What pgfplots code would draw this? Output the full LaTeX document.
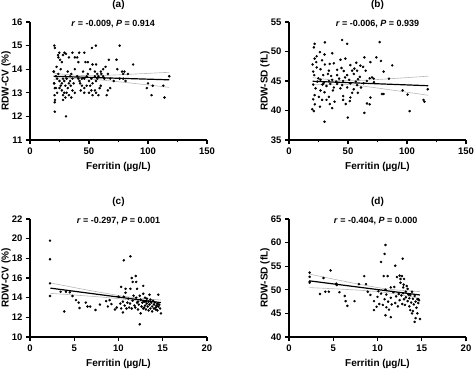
\documentclass[border=0pt]{standalone}
\usepackage{pgfplots}
\pgfplotsset{compat=1.18}
\usepackage{fontspec}
\setmainfont{Liberation Sans}
\pgfplotsset{
  panel/.style={
    scale only axis, width=177pt, height=118pt,
    axis lines=left, axis line style={line width=1.3pt,-},
    every tick/.style={line width=1.1pt, black},
    tick align=outside, major tick length=4pt, minor tick length=2.5pt,
    tick label style={font=\fontsize{9.5}{11}\selectfont\bfseries},
    /pgf/number format/assume math mode=true,
    xlabel={Ferritin (µg/L)},
    xlabel style={font=\fontsize{10}{12}\selectfont\bfseries, at={(axis description cs:0.5,-0.229)}, anchor=center},
    ylabel style={font=\fontsize{10}{12}\selectfont\bfseries, at={(axis description cs:-0.136,0.5)}, anchor=center},
    clip=false,
  },
  pts/.style={only marks, mark=*, mark size=1.05pt, black},
  reg/.style={black, line width=1.2pt},
  ci/.style={black!28, line width=0.6pt, smooth},
}
\newcommand{\ptitle}[1]{\node[font=\fontsize{10}{12}\selectfont\bfseries] at (rel axis cs:0.5,1.144) {#1};}
\newcommand{\pstat}[3]{\node[font=\fontsize{9}{11}\selectfont\bfseries] at (rel axis cs:#1,0.983) {\textit{r} = #2, \textit{P} = #3};}
\begin{document}
\begin{tikzpicture}
\useasboundingbox (0,0) rectangle (474pt,370pt);
% (a)
\begin{axis}[panel, at={(30pt,230pt)}, anchor=south west,
  xmin=0, xmax=150, ymin=11, ymax=16, xtick={0,50,100,150}, minor xtick={25,75,125},
  ytick={11,12,13,14,15,16}, ylabel={RDW-CV (\%)}]
\addplot[pts] coordinates {
(20.6,15.0)(21.1,14.9)(20.3,13.9)(20.5,13.4)(21.0,13.2)(20.8,12.9)(21.2,12.7)(21.0,12.6)(21.0,12.2)(30.5,12.0)
(24.8,14.7)(29.2,14.7)(30.5,14.65)(36.0,14.7)(41.7,14.7)(46.0,14.7)
(23.8,14.6)(28.0,14.6)(52.5,14.9)(55.8,15.0)(76.0,15.0)
(24.0,14.5)(33.0,14.5)(38.0,14.5)(40.0,14.5)
(25.5,14.4)(66.8,14.4)(73.3,14.4)
(27.0,14.3)(41.0,14.3)(47.0,14.3)(49.0,14.3)
(53.0,14.2)(56.0,14.2)(87.4,14.2)
(64.0,14.1)(22.5,14.1)
(38.0,14.0)(51.0,14.0)(62.0,14.0)(74.0,14.0)(26.0,14.0)
(20.0,13.9)(32.0,13.9)(45.0,13.9)(55.0,13.9)(60.0,13.9)(78.0,13.9)(80.0,13.9)
(24.0,13.8)(35.0,13.8)(49.0,13.8)(57.0,13.8)(60.5,13.8)(66.0,13.8)(79.0,13.8)(83.0,13.8)
(22.0,13.7)(30.0,13.7)(34.0,13.7)(40.0,13.7)(48.0,13.7)(55.0,13.7)(58.0,13.7)(62.0,13.7)(118.0,13.7)
(23.0,13.6)(28.0,13.6)(31.0,13.6)(36.0,13.6)(41.0,13.6)(44.0,13.6)(46.0,13.6)(52.0,13.6)(57.0,13.6)(63.0,13.6)(68.0,13.6)(76.0,13.6)(79.0,13.6)
(25.0,13.5)(29.0,13.5)(34.0,13.5)(42.0,13.5)(50.0,13.5)(56.0,13.5)(71.0,13.5)(81.0,13.5)
(20.5,13.4)(27.0,13.4)(33.0,13.4)(37.0,13.4)(42.5,13.4)(53.0,13.4)(100.0,13.4)
(26.0,13.3)(30.0,13.3)(34.5,13.3)(44.0,13.3)(48.0,13.3)(51.0,13.3)(60.0,13.3)(104.0,13.3)(113.0,13.3)
(22.0,13.2)(25.0,13.2)(32.0,13.2)(46.0,13.2)(59.0,13.2)(68.0,13.2)(99.0,13.2)
(27.0,13.1)(36.0,13.1)(43.0,13.1)(52.0,13.1)(55.0,13.1)(66.0,13.1)
(23.0,13.0)(29.0,13.0)(31.0,13.0)(38.0,13.0)(46.0,13.0)(50.0,13.0)(56.0,13.0)
(28.0,12.9)(33.0,12.9)(53.0,12.9)(58.0,12.9)(65.0,12.9)(103.0,12.9)
(30.0,12.8)(35.0,12.8)(114.0,12.8)(28.0,12.7)
};
\addplot[ci] coordinates {(20,13.828)(30,13.780)(40,13.742)(50,13.727)(60,13.734)(70,13.751)(80,13.773)(90,13.798)(100,13.823)(110,13.849)(118,13.870)};
\addplot[ci] coordinates {(20,13.572)(30,13.590)(40,13.596)(50,13.581)(60,13.544)(70,13.495)(80,13.443)(90,13.388)(100,13.333)(110,13.275)(118,13.230)};
\addplot[reg] coordinates {(20,13.70)(118,13.55)};
\ptitle{(a)}
\pstat{0.47}{-0.009}{0.914}
\end{axis}
% (b)
\begin{axis}[panel, at={(289pt,230pt)}, anchor=south west,
  xmin=0, xmax=150, ymin=35, ymax=55, xtick={0,50,100,150}, minor xtick={25,75,125},
  ytick={35,40,45,50,55}, ylabel={RDW-SD (fL)}]
\addplot[pts] coordinates {
(21.7,51.3)(21.1,50.7)(30.4,51.55)(45.0,51.95)(49.3,51.3)(76.8,51.6)(26.2,49.9)(23.4,49.2)(21.7,48.8)(30.1,49.5)(36.6,49.7)(20.0,47.8)(23.1,48.2)(30.4,47.8)(38.0,48.0)(43.6,48.6)(47.8,48.8)(63.9,49.0)(69.0,48.2)(74.0,49.0)(77.9,48.4)(87.5,47.65)(52.0,47.7)(55.4,47.1)(80.2,46.6)(20.5,46.6)(26.7,47.0)(33.8,46.75)(40.8,46.9)(46.4,46.7)(53.5,46.75)(57.7,46.75)(62.8,47.4)(65.0,46.75)(70.4,45.6)(68.4,45.45)(71.8,45.4)(84.7,45.4)(21.4,46.0)(29.0,46.0)(35.7,45.85)(40.8,46.0)(49.3,46.0)(54.9,46.2)(60.0,45.7)(24.8,45.45)(33.8,45.0)(40.0,44.9)(45.9,45.0)(51.0,45.2)(56.6,44.9)(20.5,44.4)(28.4,44.4)(31.8,44.15)(38.0,43.9)(43.6,43.75)(49.3,43.9)(54.9,43.6)(61.0,43.9)(22.5,43.75)(26.7,43.4)(30.1,43.1)(37.2,43.4)(53.5,43.0)(58.3,43.0)(78.8,42.8)(80.2,42.8)(96.3,43.4)(100.5,42.7)(117.6,43.6)(21.7,42.6)(25.3,42.3)(33.8,42.3)(45.9,42.45)(52.0,42.2)(69.0,42.2)(20.5,41.9)(28.1,41.8)(31.8,41.8)(38.6,41.5)(45.9,41.8)(51.5,41.6)(114.0,41.8)(114.8,41.5)(21.9,41.05)(34.6,41.1)(48.1,41.1)(66.1,41.2)(68.4,41.05)(19.7,40.2)(21.1,39.9)(26.2,40.65)(36.6,40.4)(102.2,39.9)(63.9,39.6)(49.8,38.8)(30.1,38.1)(33.0,46.2)(36.6,45.2)(26.7,45.2)(40.8,44.5)(45.0,44.3)(52.0,44.6)(57.7,44.3)(63.3,44.6)(24.0,44.9)(29.5,44.7)(35.0,44.5)(42.5,45.4)(47.5,45.6)(58.5,45.3)(66.0,45.0)(72.0,44.8)(23.5,47.3)(28.0,48.5)(34.5,47.9)(57.0,48.1)(60.5,47.6)(44.5,47.2)
};
\addplot[ci] coordinates {(20,45.572)(30,45.317)(40,45.116)(50,45.039)(60,45.088)(70,45.189)(80,45.311)(90,45.440)(100,45.574)(110,45.709)(118,45.82)};
\addplot[ci] coordinates {(20,44.328)(30,44.429)(40,44.478)(50,44.401)(60,44.200)(70,43.945)(80,43.671)(90,43.388)(100,43.102)(110,42.813)(118,42.58)};
\addplot[reg] coordinates {(20,44.95)(118,44.20)};
\ptitle{(b)}
\pstat{0.5}{-0.006}{0.939}
\end{axis}
% (c)
\begin{axis}[panel, at={(30pt,33pt)}, anchor=south west,
  xmin=0, xmax=20, ymin=10, ymax=22, xtick={0,5,10,15,20},
  ytick={10,12,14,16,18,20,22}, ylabel={RDW-CV (\%)}]
\addplot[pts] coordinates {
(2.26,19.8)(2.26,17.9)(2.26,15.45)(2.26,14.17)(3.46,14.6)(4.06,14.6)(4.5,14.55)(4.8,14.17)(3.87,12.6)(5.2,13.75)(5.5,13.5)(5.6,12.95)(6.3,13.5)(6.5,13.1)(6.8,13.1)(7.4,12.75)(7.9,13.3)(8.6,13.65)(8.8,13.1)(9.0,13.75)(9.2,13.35)(9.6,12.8)(10.3,15.1)(10.6,17.8)(10.8,14.9)(11.35,18.2)(11.35,14.9)(11.5,16.0)(11.6,15.6)(11.95,16.2)(12.0,15.6)(12.1,14.9)(12.4,11.3)(12.8,15.2)(10.5,12.5)
(9.8,13.0)(10.0,14.1)(10.2,13.4)(10.3,12.9)(10.5,13.6)(10.6,14.1)(10.7,13.2)(10.9,12.9)(11.0,13.5)(11.1,13.9)(11.2,13.0)(11.3,13.4)(11.5,12.9)(11.6,13.7)(11.8,13.2)(11.9,13.0)(12.0,14.0)(12.1,13.5)(12.2,12.8)(12.3,13.3)(12.4,14.2)(12.5,12.4)(12.5,13.8)(12.6,13.1)(12.7,13.5)(12.8,12.9)(12.8,14.4)(12.9,13.6)(13.0,13.2)(13.0,14.0)(13.1,12.8)(13.2,13.4)(13.2,13.9)(13.3,13.1)(13.4,13.6)(13.4,12.7)(13.5,14.3)(13.5,13.3)(13.6,12.9)(13.6,13.8)(13.7,13.5)(13.8,13.1)(13.8,12.6)(13.9,13.7)(14.0,13.3)(14.0,12.9)(14.1,13.5)(14.2,13.0)(14.2,12.8)(14.3,13.2)(14.4,13.4)(14.4,12.7)(14.5,13.1)(14.6,13.3)(14.7,12.9)(14.8,12.4)(14.5,14.3)(13.1,13.6)(12.9,13.0)(12.2,13.6)(11.7,14.2)(10.8,14.5)
};
\addplot[ci] coordinates {(2.3,15.50)(4,15.205)(6,14.858)(8,14.531)(10,14.221)(11,14.09)(12,13.991)(13,13.90)(14,13.821)(14.8,13.763)};
\addplot[ci] coordinates {(2.3,14.44)(4,14.335)(6,14.202)(8,14.069)(10,13.899)(11,13.79)(12,13.669)(13,13.52)(14,13.359)(14.8,13.227)};
\addplot[reg] coordinates {(2.3,14.97)(14.8,13.495)};
\ptitle{(c)}
\pstat{0.5}{-0.297}{0.001}
\end{axis}
% (d)
\begin{axis}[panel, at={(289pt,33pt)}, anchor=south west,
  xmin=0, xmax=20, ymin=40, ymax=65, xtick={0,5,10,15,20},
  ytick={40,45,50,55,60,65}, ylabel={RDW-SD (fL)}]
\addplot[pts] coordinates {
(2.33,53.65)(2.33,52.75)(2.33,51.7)(2.33,51.5)(4.7,54.1)(3.9,52.5)(3.5,49.1)(4.1,49.6)(4.5,49.6)(5.4,51.0)(5.35,51.3)(5.7,49.5)(6.3,48.7)(6.4,47.6)(6.6,46.6)(7.4,47.6)(7.9,51.2)(8.5,52.9)(8.7,51.2)(8.9,49.6)(9.2,48.9)(9.6,47.6)(9.6,45.7)(9.9,46.4)(10.1,49.7)(10.4,55.9)(10.7,52.9)(10.8,57.6)(10.9,59.5)(10.9,44.6)(11.15,52.9)(11.5,44.2)(11.9,50.6)(12.0,55.1)(12.6,52.3)(12.75,52.9)(12.85,56.6)(12.95,51.1)(13.7,45.7)(13.9,45.0)(14.6,48.0)
(10.0,48.5)(10.2,47.0)(10.4,49.2)(10.6,46.8)(10.8,48.0)(11.0,46.3)(11.0,49.0)(11.2,47.5)(11.3,45.8)(11.5,48.3)(11.6,46.9)(11.8,49.5)(12.0,47.2)(12.1,48.6)(12.2,52.7)(12.3,46.5)(12.4,49.1)(12.5,47.8)(12.6,51.5)(12.7,48.8)(12.8,47.0)(12.9,50.5)(12.9,49.3)(13.0,48.0)(13.1,46.8)(13.2,49.6)(13.2,48.4)(13.3,50.8)(13.4,47.6)(13.5,49.0)(13.6,48.2)(13.6,46.5)(13.7,48.9)(13.8,47.3)(13.9,49.6)(14.0,48.1)(14.1,46.9)(14.2,48.7)(14.3,47.5)(14.4,46.2)(14.5,48.0)(14.6,47.2)(14.7,47.8)(14.8,43.8)(14.3,44.0)(14.2,43.2)(13.0,52.3)(12.5,53.0)(11.5,50.5)(10.9,50.0)(13.4,50.2)(14.0,45.5)(14.5,45.0)
};
\addplot[ci] coordinates {(2.3,53.33)(4,52.665)(6,51.894)(8,51.15)(10,50.48)(11,50.21)(12,50.0)(13,49.84)(14,49.71)(14.8,49.62)};
\addplot[ci] coordinates {(2.3,50.47)(4,50.315)(6,50.126)(8,49.91)(10,49.62)(11,49.41)(12,49.14)(13,48.82)(14,48.47)(14.8,48.18)};
\addplot[reg] coordinates {(2.3,51.9)(14.8,48.9)};
\ptitle{(d)}
\pstat{0.49}{-0.404}{0.000}
\end{axis}
\end{tikzpicture}
\end{document}
